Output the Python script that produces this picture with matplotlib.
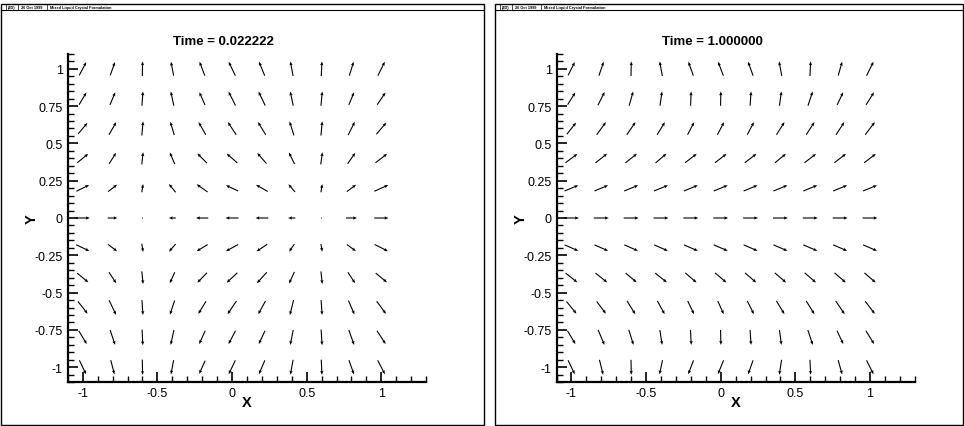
import numpy as np
import matplotlib.pyplot as plt
from matplotlib.ticker import MultipleLocator, FuncFormatter
from matplotlib.patches import Rectangle
from matplotlib.lines import Line2D

plt.rcParams['font.family'] = ['Liberation Sans', 'DejaVu Sans']
plt.rcParams['axes.unicode_minus'] = False

# grid of director samples
xs = [-1.0, -0.8, -0.6, -0.4, -0.2, 0.0, 0.2, 0.4, 0.6, 0.8, 1.0]
ys = [1.0, 0.8, 0.6, 0.4, 0.2, 0.0, -0.2, -0.4, -0.6, -0.8, -1.0]

titles = ["Time = 0.022222", "Time = 1.000000"]
header = ["(2D)", "26 Oct 1999", "Mixed Liquid Crystal Formulation"]

# vector components, rows top (y=1) to bottom (y=-1)
U_early = [
    [7.0, 4.7, 0.3, -2.7, -5.3, -6.7, -5.7, -2.7, 0.7, 4.3, 7.0],
    [7.3, 5.3, 1.0, -3.0, -5.7, -7.0, -6.7, -3.0, 1.3, 5.3, 8.3],
    [9.3, 7.3, 1.3, -4.0, -7.3, -8.3, -7.7, -4.3, 1.3, 6.7, 10.0],
    [11.0, 7.0, 1.3, -5.0, -9.7, -10.7, -9.3, -5.7, 1.7, 7.7, 11.7],
    [12.7, 9.0, 1.3, -6.7, -11.0, -12.3, -11.7, -6.7, 1.3, 9.3, 14.0],
    [14.3, 9.7, 0.0, -7.0, -12.3, -13.0, -12.7, -7.3, 0.0, 11.0, 14.3],
    [13.3, 9.0, 1.3, -6.7, -11.0, -12.3, -10.7, -5.3, 1.3, 9.0, 13.3],
    [11.3, 7.3, 1.3, -5.0, -9.7, -10.7, -10.0, -5.3, 1.3, 7.3, 11.3],
    [9.7, 7.0, 1.0, -4.7, -7.7, -9.0, -7.3, -3.7, 1.0, 6.0, 9.3],
    [8.0, 5.0, 0.7, -3.3, -6.0, -7.0, -6.3, -3.0, 1.0, 5.3, 8.7],
    [6.7, 3.7, 0.3, -2.7, -6.0, -6.7, -6.0, -2.7, 0.7, 5.0, 7.3],
]
V_early = [
    [13.3, 13.3, 14.7, 14.0, 14.0, 14.0, 14.0, 14.7, 14.7, 14.0, 14.0],
    [12.3, 12.7, 14.3, 14.3, 12.7, 14.0, 14.0, 14.3, 14.3, 12.7, 12.3],
    [11.0, 12.7, 14.3, 13.3, 12.7, 12.7, 12.7, 14.0, 14.3, 13.3, 11.7],
    [9.0, 11.0, 12.3, 11.7, 9.7, 9.3, 10.7, 11.7, 12.3, 11.0, 9.0],
    [6.3, 7.0, 8.3, 8.3, 7.7, 5.7, 6.7, 7.7, 8.3, 7.0, 6.3],
    [0.0, 0.0, 0.0, 0.0, 0.0, 0.0, 0.0, 0.0, 0.0, 0.0, 0.0],
    [-6.3, -7.0, -8.3, -7.7, -6.7, -6.7, -7.0, -7.7, -7.7, -6.7, -6.7],
    [-9.3, -11.0, -12.7, -11.0, -10.0, -10.0, -11.0, -11.7, -12.7, -11.0, -9.3],
    [-12.3, -14.7, -15.0, -14.3, -12.7, -13.3, -13.3, -15.0, -15.0, -14.0, -12.7],
    [-13.3, -15.0, -15.7, -15.0, -13.3, -13.3, -13.3, -15.0, -15.7, -15.0, -13.3],
    [-14.0, -14.3, -15.3, -14.3, -13.3, -14.0, -14.0, -15.0, -15.3, -14.3, -14.0],
]
U_late = [
    [6.7, 4.7, 0.3, -2.7, -5.0, -5.3, -5.0, -2.7, 0.7, 4.0, 7.0],
    [7.7, 6.7, 4.0, 2.0, 0.5, 0.3, 1.0, 2.0, 4.7, 6.0, 8.0],
    [9.3, 9.3, 8.7, 7.7, 6.7, 6.7, 6.7, 8.0, 8.3, 8.3, 9.7],
    [12.0, 11.7, 11.7, 11.0, 11.7, 11.7, 11.7, 11.0, 11.7, 11.7, 11.7],
    [13.7, 13.7, 14.0, 14.0, 14.0, 14.0, 14.0, 14.0, 14.0, 14.0, 14.0],
    [15.0, 15.0, 15.0, 15.0, 15.0, 15.0, 15.0, 15.0, 15.0, 15.0, 15.0],
    [13.7, 13.7, 13.7, 13.7, 14.0, 14.0, 14.0, 14.0, 14.0, 14.0, 14.0],
    [11.7, 11.7, 11.0, 11.7, 11.3, 11.3, 11.3, 11.3, 11.3, 11.3, 11.3],
    [10.0, 9.3, 8.3, 7.3, 6.3, 6.0, 6.7, 8.0, 8.3, 9.0, 9.7],
    [8.0, 6.3, 4.7, 2.3, 0.8, 0.3, 1.0, 2.0, 5.0, 6.3, 8.3],
    [6.7, 3.7, 0.3, -3.0, -5.3, -5.7, -5.0, -2.3, 0.7, 4.0, 7.0],
]
V_late = [
    [13.3, 14.0, 14.7, 14.7, 14.0, 14.0, 14.0, 14.7, 14.7, 14.0, 14.0],
    [12.3, 13.3, 14.3, 14.3, 14.3, 14.3, 14.3, 14.3, 14.3, 12.7, 12.7],
    [11.7, 12.7, 12.7, 12.7, 12.7, 12.7, 12.7, 12.7, 12.7, 12.7, 12.7],
    [9.0, 9.3, 9.3, 9.3, 9.0, 9.0, 9.0, 9.0, 9.0, 9.0, 9.0],
    [5.7, 5.7, 5.7, 5.7, 5.7, 5.7, 5.7, 5.7, 5.7, 5.7, 5.7],
    [0.0, 0.0, 0.0, 0.0, 0.0, 0.0, 0.0, 0.0, 0.0, 0.0, 0.0],
    [-6.0, -6.0, -6.0, -6.0, -6.0, -6.0, -6.0, -6.0, -6.0, -6.0, -6.0],
    [-9.3, -9.3, -9.3, -9.3, -9.7, -9.7, -9.7, -9.7, -9.7, -9.7, -9.7],
    [-12.3, -12.3, -13.3, -13.3, -13.3, -13.3, -13.3, -13.3, -13.3, -13.3, -12.7],
    [-13.3, -15.0, -15.0, -15.0, -15.0, -15.0, -15.0, -15.0, -15.0, -13.3, -13.3],
    [-14.0, -15.0, -15.0, -14.3, -14.0, -14.0, -14.0, -15.0, -15.0, -14.3, -14.0],
]

W, H = 964, 427
fig = plt.figure(figsize=(W / 100, H / 100), dpi=100)

def fx(px):
    return px / W

def fy(py):
    return 1 - py / H

X, Y = np.meshgrid(xs, ys)
fmt = FuncFormatter(lambda v, pos: f"{v:g}")

panels = [(0, 67.8, U_early, V_early), (494, 556.5, U_late, V_late)]
for i, (x0, axleft, U, V) in enumerate(panels):
    # panel frame and header strip
    x1 = 484 if i == 0 else 963
    fig.add_artist(Rectangle((fx(x0 + 1), fy(426)), fx(x1 - x0 - 1), (426 - 5) / H,
                             fill=False, lw=1.0, ec='black', transform=fig.transFigure))
    fig.add_artist(Line2D([fx(x0 + 1), fx(x1)], [fy(11), fy(11)], lw=0.8, color='black'))
    for sx in [6, 18, 47]:
        fig.add_artist(Line2D([fx(x0 + sx), fx(x0 + sx)], [fy(5), fy(11)], lw=0.5, color='black'))
    for txt, tx in zip(header, [8, 21, 50]):
        fig.text(fx(x0 + tx), fy(8), txt, fontsize=2.8, fontweight='bold',
                 ha='left', va='center')

    ax = fig.add_axes([fx(axleft), fy(383.2), 358.3 / W, 328.4 / H])
    ax.quiver(X, Y, np.array(U), np.array(V), angles='xy', scale_units='xy', scale=150,
              pivot='mid', units='dots', width=1.1, headwidth=3, headlength=3.6,
              headaxislength=3.1, color='black')
    ax.set_xlim(-1.1, 1.3)
    ax.set_ylim(-1.1, 1.1)
    for s in ['top', 'right']:
        ax.spines[s].set_visible(False)
    for s in ['left', 'bottom']:
        ax.spines[s].set_linewidth(1.6)
    ax.xaxis.set_major_locator(MultipleLocator(0.5))
    ax.xaxis.set_minor_locator(MultipleLocator(0.1))
    ax.yaxis.set_major_locator(MultipleLocator(0.25))
    ax.yaxis.set_minor_locator(MultipleLocator(0.05))
    ax.xaxis.set_major_formatter(fmt)
    ax.yaxis.set_major_formatter(fmt)
    ax.tick_params(which='major', direction='in', length=7, width=1.2, labelsize=9, pad=3.5)
    ax.tick_params(which='minor', direction='in', length=4, width=1.0)
    ax.text(0.435, 1.039, titles[i], transform=ax.transAxes, ha='center', va='center',
            fontsize=9.5, fontweight='bold')
    ax.text(0.5, -0.06, "X", transform=ax.transAxes, ha='center', va='center',
            fontsize=10.5, fontweight='bold')
    ax.text(-0.1, 0.5, "Y", transform=ax.transAxes, ha='center', va='center',
            rotation=90, fontsize=10.5, fontweight='bold')

fig.savefig("out.png", dpi=100)
